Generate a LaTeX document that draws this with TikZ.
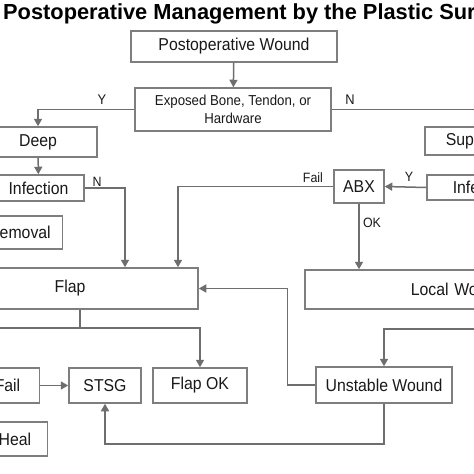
\documentclass[tikz,border=0pt]{standalone}
\usepackage{fontspec}
\setmainfont{Liberation Sans}
\newfontfamily\boxfont[FakeStretch=0.92]{Liberation Sans}
\usepackage{xcolor}
\usepackage{tikz}
\usetikzlibrary{arrows.meta}
\definecolor{linegray}{HTML}{6e6e6e}
\definecolor{boxgray}{HTML}{7e7e7e}

\begin{document}
\begin{tikzpicture}[x=1pt,y=-1pt,
  box/.style={draw=boxgray,line width=1.5pt,inner sep=0pt,text=black!90,font=\boxfont\fontsize{17.2}{20}\selectfont},
  lbl/.style={inner sep=0pt,text=black!90,font=\boxfont\fontsize{13.5}{15}\selectfont},
  arr/.style={draw=linegray,line width=1.5pt,-{Triangle[width=8pt,length=7.5pt]}},
  ln/.style={draw=linegray,line width=1.5pt}]
\useasboundingbox (0,0) rectangle (474,474);
\fill[white] (0,0) rectangle (474,474);
  \node[anchor=base west,inner sep=0pt,font=\bfseries\fontsize{21.8}{24}\selectfont] (title) at (3,19.5) {Postoperative Management by the Plastic Surgeon};
  \node[box,minimum width=206,minimum height=31] (wound) at (234,46.5) {Postoperative Wound};
  \node[box,minimum width=196,minimum height=43,align=center,font=\boxfont\fontsize{14.4}{18}\selectfont] (exposed) at (233,109.5) {Exposed Bone, Tendon, or\\Hardware};
  \node[box,minimum width=118,minimum height=30] (deep) at (38,142) {Deep};
  \node[box,minimum width=91,minimum height=26] (infL) at (38.5,188) {Infection};
  \node[box,anchor=east,minimum height=33,text width=70,align=right,inner xsep=11.5] (removal) at (63,232.5) {Removal};
  \node[box,minimum width=256,minimum height=41] (flap) at (70,288.5) {Flap};
  \node[box,minimum width=50,minimum height=33] (abx) at (359,186.5) {ABX};
  \node[box,anchor=west,minimum height=28,text width=90,align=left,inner xsep=21] (sup) at (424,141) {Superficial};
  \node[box,anchor=west,minimum height=25,text width=70,align=left,inner xsep=26] (infR) at (426,187.5) {Infection};
  \node[box,anchor=west,minimum height=39,text width=150,align=left,inner xsep=106] (local) at (304,289.5) {Local Wound Care};
  \node[box,anchor=east,minimum height=35,text width=80,align=right,inner xsep=19] (fail) at (40,385.5) {Fail};
  \node[box,minimum width=72,minimum height=35] (stsg) at (105,385.5) {STSG};
  \node[box,minimum width=94,minimum height=35] (flapok) at (200,385.5) {Flap OK};
  \node[box,minimum width=136,minimum height=36] (unstable) at (384,385) {Unstable Wound};
  \node[box,anchor=east,minimum height=34,text width=80,align=right,inner xsep=16] (heal) at (48,439) {Heal};
  \node[lbl,font=\boxfont\fontsize{14}{16}\selectfont] (yesL) at (102,100) {Y};
  \node[lbl,font=\boxfont\fontsize{14}{16}\selectfont] (noR) at (350,100) {N};
  \node[lbl] (noInf) at (97,181.5) {N};
  \node[lbl] (failAbx) at (313,178) {Fail};
  \node[lbl] (yesInf) at (409,177) {Y};
  \node[lbl] (okAbx) at (372,223) {OK};
  \coordinate (split) at (80,328);
  \draw[arr] (wound) -- (exposed);
  \draw[arr] (exposed.west) -| (deep.north);
  \draw[arr] (exposed.east) -| (sup.north);
  \draw[arr] (deep) -- (infL);
  \draw[arr] (infL.east) -| ([xshift=55]flap.north);
  \draw[arr] (abx.west) -| ([xshift=108]flap.north);
  \draw[arr] (infR.west) -- (abx.east);
  \draw[arr] (abx.south) -- (abx.south |- local.north);
  \draw[ln] ([xshift=10]flap.south) -- (split);
  \draw[arr] (split) -| (flapok.north);
  \draw[arr] (split) -| (fail.north);
  \draw[arr] (fail.east) -- (stsg.west);
  \draw[arr] (local.south) -- ++(0,19) -| (unstable.north);
  \draw[arr] (unstable.west) -- ++(-28,0) |- (flap.east);
  \draw[arr] (unstable.south) -- ++(0,40) -| (stsg.south);
\end{tikzpicture}
\end{document}
